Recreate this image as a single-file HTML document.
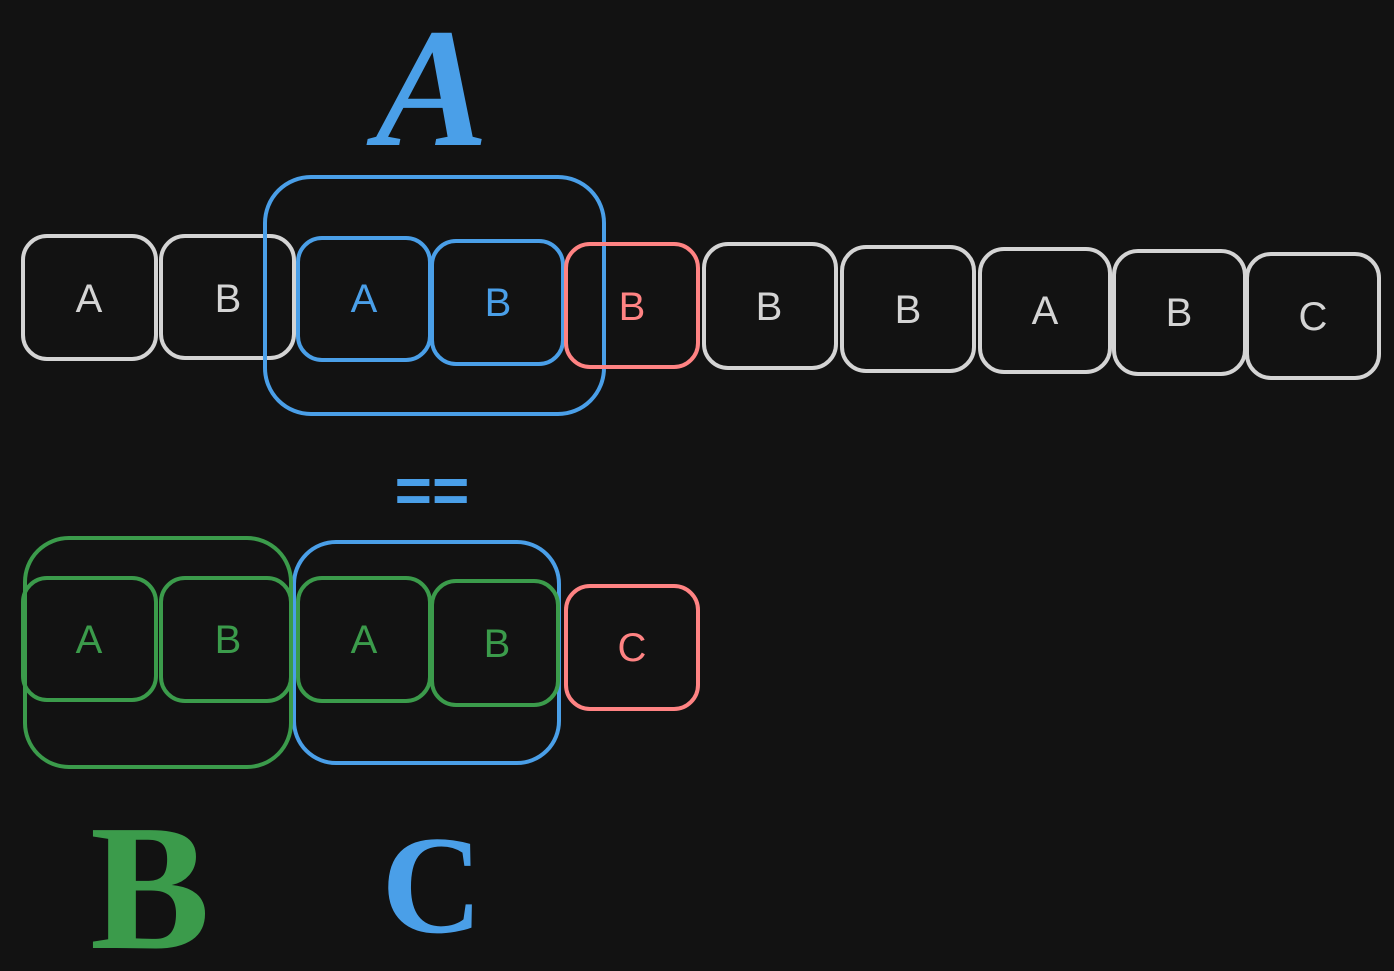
<!DOCTYPE html>
<html><head><meta charset="utf-8"><style>
html,body{margin:0;padding:0;background:#121212;}
svg{display:block}
</style></head><body>
<svg width="1394" height="971" viewBox="0 0 1394 971" xmlns="http://www.w3.org/2000/svg">
<rect width="1394" height="971" fill="#121212"/>
<g fill="none" stroke-width="4" stroke-linecap="round">
 <g stroke="#d4d4d4">
  <rect x="23" y="236" width="133" height="123" rx="24"/>
  <rect x="161" y="236" width="133" height="122" rx="24"/>
  <rect x="704" y="244" width="132" height="124" rx="24"/>
  <rect x="842" y="247" width="132" height="124" rx="24"/>
  <rect x="980" y="249" width="130" height="123" rx="24"/>
  <rect x="1114" y="251" width="131" height="123" rx="24"/>
  <rect x="1247" y="254" width="132" height="124" rx="24"/>
 </g>
 <g stroke="#4a9fe8">
  <rect x="298" y="238" width="132" height="122" rx="24"/>
  <rect x="432" y="241" width="131" height="123" rx="24"/>
  <rect x="265" y="177" width="339" height="237" rx="46"/>
  <rect x="294" y="542" width="265" height="221" rx="42"/>
 </g>
 <g stroke="#ff8383">
  <rect x="566" y="244" width="132" height="123" rx="24"/>
  <rect x="566" y="586" width="132" height="123" rx="24"/>
 </g>
 <g stroke="#3b9b4b">
  <rect x="25" y="538" width="266" height="229" rx="44"/>
  <rect x="23" y="578" width="133" height="122" rx="24"/>
  <rect x="161" y="578" width="130" height="123" rx="24"/>
  <rect x="298" y="578" width="132" height="123" rx="24"/>
  <rect x="432" y="581" width="126" height="124" rx="24"/>
 </g>
</g>
<g font-family="Liberation Sans, sans-serif" font-size="40" text-anchor="middle">
 <g fill="#d4d4d4">
  <text x="89" y="312">A</text><text x="228" y="312">B</text>
  <text x="769" y="320">B</text><text x="908" y="323">B</text>
  <text x="1045" y="324">A</text><text x="1179" y="326">B</text>
  <text x="1313" y="330">C</text>
 </g>
 <g fill="#4a9fe8"><text x="364" y="312">A</text><text x="498" y="316">B</text></g>
 <g fill="#ff8383"><text x="632" y="320">B</text><text x="632" y="661">C</text></g>
 <g fill="#3b9b4b">
  <text x="89" y="653">A</text><text x="228" y="653">B</text>
  <text x="364" y="653">A</text><text x="497" y="657">B</text>
 </g>
</g>
<g font-family="Liberation Serif, serif" font-weight="bold" text-anchor="middle">
 <text x="432" y="145" font-size="170" font-style="italic" fill="#4a9fe8">A</text>
 <text x="432" y="512" font-size="64" fill="#4a9fe8" font-family="Liberation Sans, sans-serif">==</text>
 <text x="150" y="948" font-size="180" fill="#3b9b4b">B</text>
 <text x="432" y="932" font-size="140" fill="#4a9fe8">C</text>
</g>
</svg>
</body></html>
